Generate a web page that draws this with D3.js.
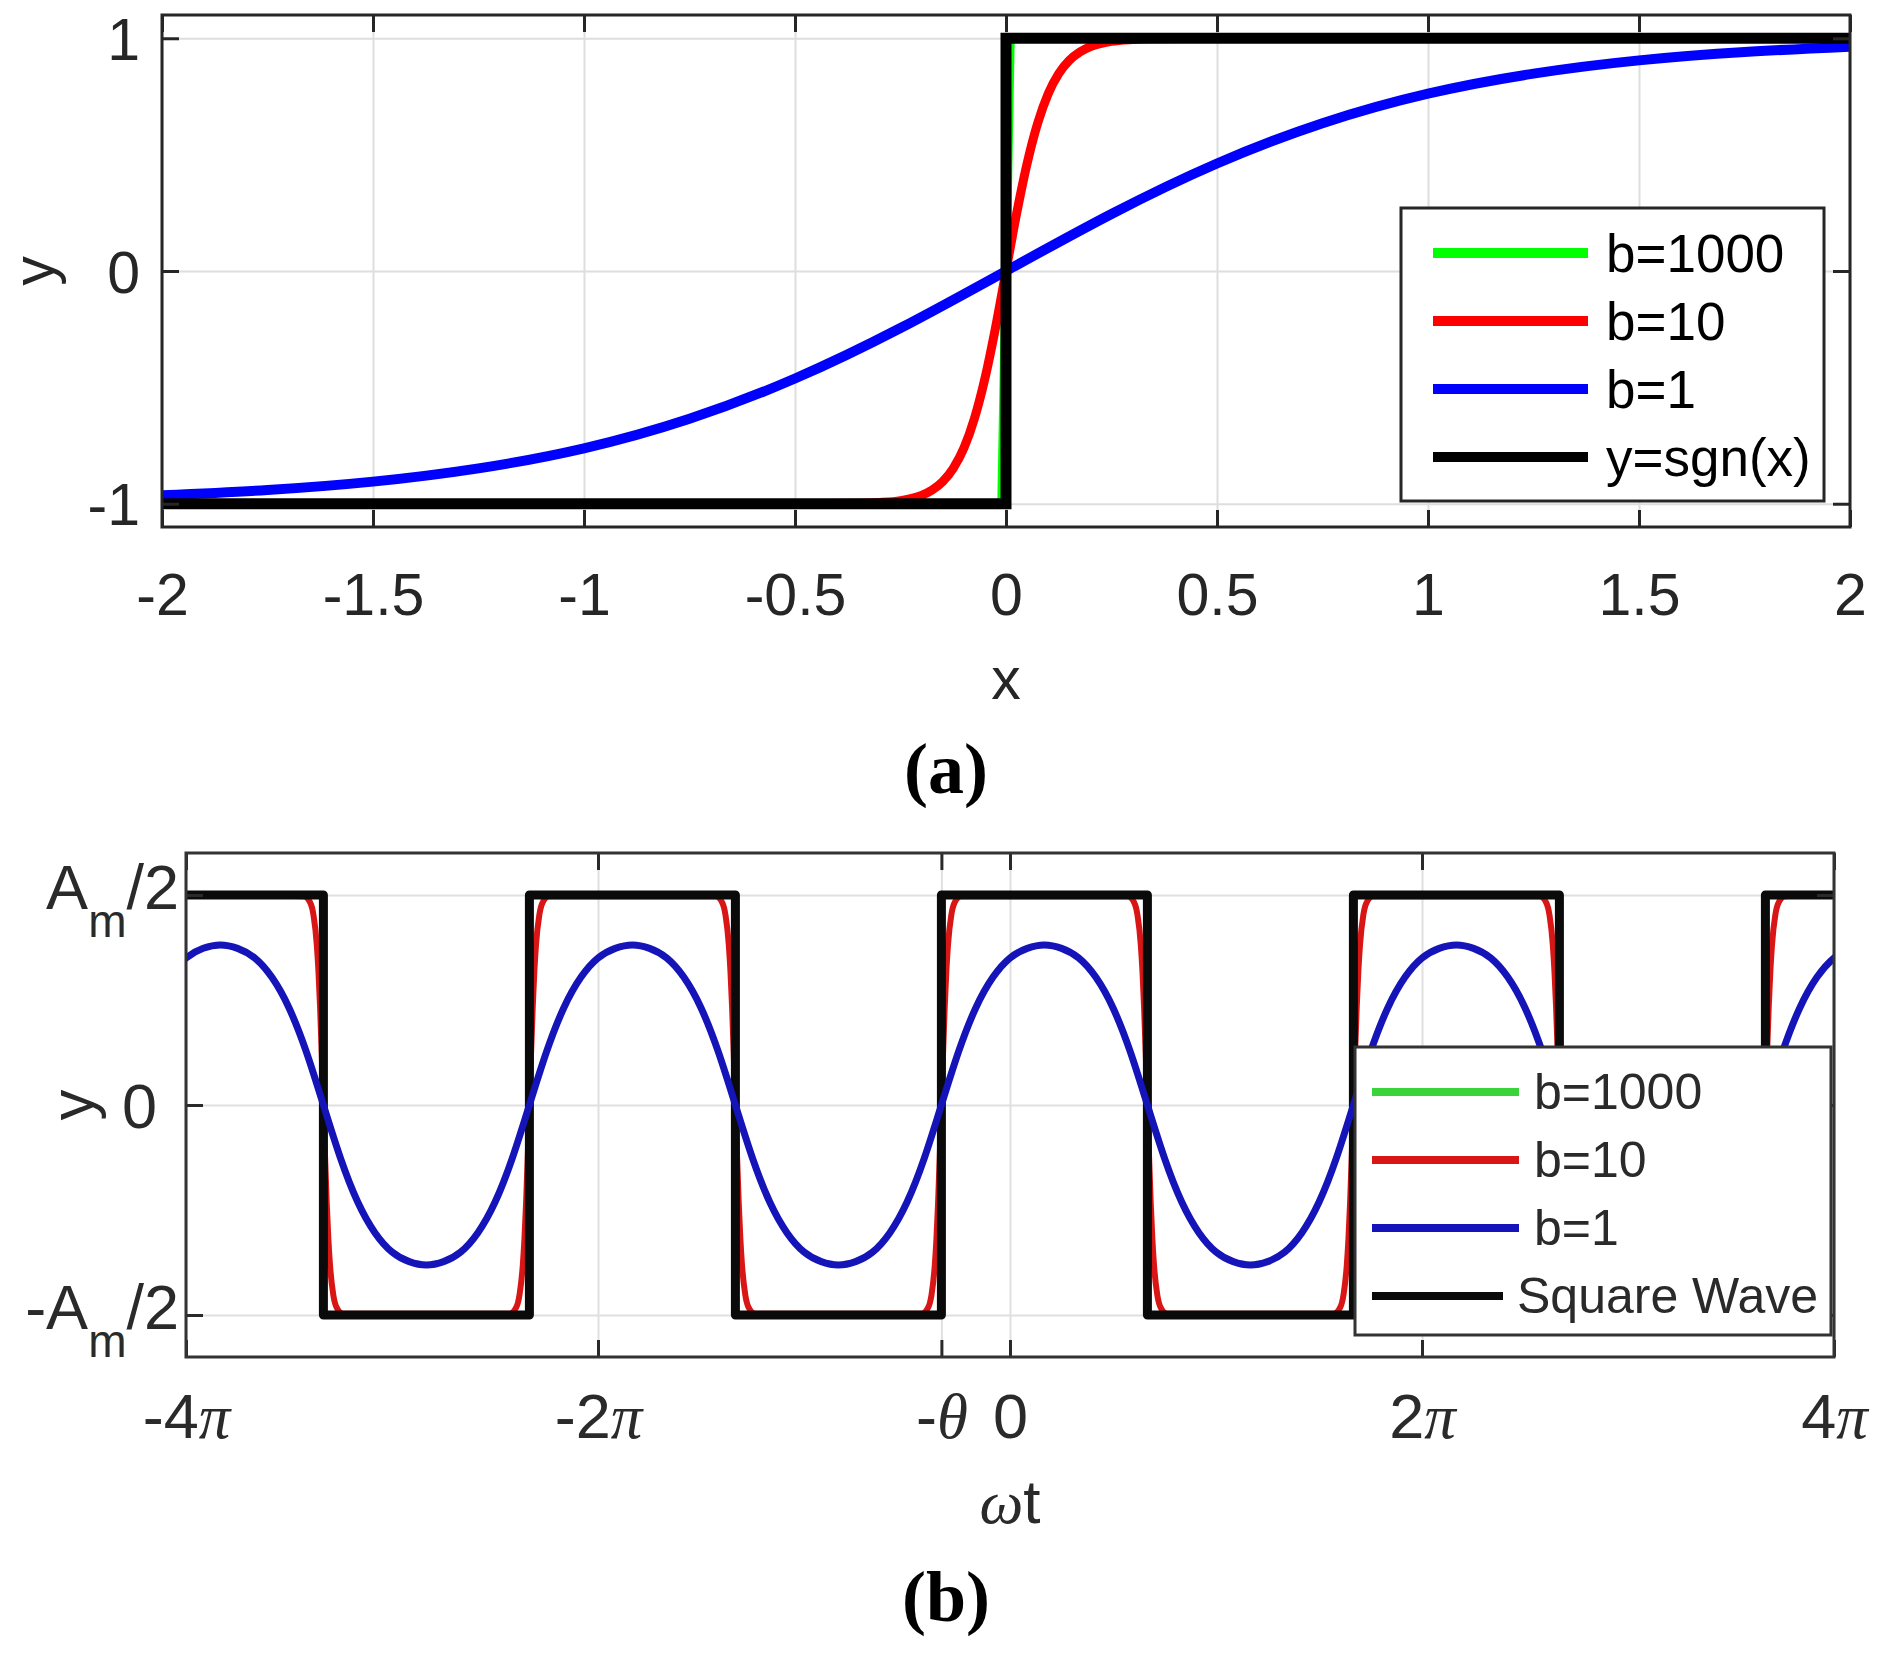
<!DOCTYPE html>
<html>
<head>
<meta charset="utf-8">
<script src="https://cdn.jsdelivr.net/npm/d3@7"></script>
<style>
body { margin: 0; background: #fff; }
</style>
</head>
<body>
<svg id="chart" width="1883" height="1659" font-family="'Liberation Sans', Arial, sans-serif"></svg>
<script>
// ---------- panel (a): y = tanh-like curves vs sgn(x) ----------
var xTicksA = [-2, -1.5, -1, -0.5, 0, 0.5, 1, 1.5, 2];
var yTicksA = [-1, 0, 1];
var namesA = ["b=1000", "b=10", "b=1", "y=sgn(x)"];
var colorsA = ["#00ff00", "#ff0000", "#0000ff", "#000000"];

var b1000X = [-2, -0.01, 0.01, 2];
var b1000Y = [-1, -1, 1, 1];
var b10X = [-2, -0.5, -0.35, -0.3, -0.25, -0.2, -0.175, -0.15, -0.125, -0.1, -0.075, -0.05, -0.025, 0,
            0.025, 0.05, 0.075, 0.1, 0.125, 0.15, 0.175, 0.2, 0.25, 0.3, 0.35, 0.5, 2];
var b10Y = [-1, -1, -0.998, -0.995, -0.987, -0.964, -0.941, -0.905, -0.848, -0.762, -0.635, -0.462, -0.245, 0,
            0.245, 0.462, 0.635, 0.762, 0.848, 0.905, 0.941, 0.964, 0.987, 0.995, 0.998, 1, 1];
var b1X = [-2, -1.75, -1.5, -1.25, -1, -0.75, -0.5, -0.25, 0, 0.25, 0.5, 0.75, 1, 1.25, 1.5, 1.75, 2];
var b1Y = [-0.964, -0.941, -0.905, -0.848, -0.762, -0.635, -0.462, -0.245, 0,
           0.245, 0.462, 0.635, 0.762, 0.848, 0.905, 0.941, 0.964];
var sgnX = [-2, 0, 0, 2];
var sgnY = [-1, -1, 1, 1];

// ---------- panel (b): x in units of pi, y in units of A_m ----------
var xTicksB = [-4, -2, -0.333, 0, 2, 4];
var xLabelsB = [["-4", "π"], ["-2", "π"], ["-", "θ"], ["0", ""], ["2", "π"], ["4", "π"]];
var yTicksB = [-0.5, 0, 0.5];
var yLabelsB = [["-A", "m", "/2"], ["0", "", ""], ["A", "m", "/2"]];
var namesB = ["b=1000", "b=10", "b=1", "Square Wave"];
var colorsB = ["#3ad43a", "#d81616", "#1414b8", "#0a0a0a"];

// square wave switching instants and levels between them
var sqEdges = [-3.333, -2.333, -1.333, -0.333, 0.667, 1.667, 2.667, 3.667];
var sqLevels = [0.5, -0.5, 0.5, -0.5, 0.5, -0.5, 0.5, -0.5, 0.5];
// shape of one edge for b=10 and b=1000 (offset from the switching instant)
var b10EdgeOff = [0, 0.008, 0.016, 0.024, 0.032, 0.048, 0.064, 0.095];
var b10EdgeVal = [0, 0.122, 0.231, 0.318, 0.381, 0.452, 0.482, 0.497];
var b1000EdgeOff = [0, 0.003];
var b1000EdgeVal = [0, 0.5];
// b=1: half wave read every pi/12 from a rising zero crossing
var b1Start = -4.333;
var b1Step = 1 / 12;
var b1HalfWave = [0, 0.127, 0.231, 0.304, 0.350, 0.373, 0.381, 0.373, 0.350, 0.304, 0.231, 0.127];

var serif = "'Liberation Serif', 'Times New Roman', serif";
var sans = "'Liberation Sans', Arial, sans-serif";

var svg = d3.select("#chart");
svg.append("rect").attr("width", 1883).attr("height", 1659).attr("fill", "#fff");

function zipPts(xs, ys) {
    return xs.map(function (x, i) { return [x, ys[i]]; });
}
function plain(d) { return String(d); }   // keep "-" instead of unicode minus

// ================= panel (a) =================
var A = { left: 162, right: 1850, top: 15, bottom: 527 };
var xA = d3.scaleLinear().domain([-2, 2]).range([A.left, A.right]);
var yA = d3.scaleLinear().domain([-1.1, 1.1]).range([A.bottom, A.top]);
var gA = svg.append("g");

// grid
gA.append("g").attr("transform", "translate(0," + A.bottom + ")")
    .call(d3.axisBottom(xA).tickValues(xTicksA).tickSize(-(A.bottom - A.top)).tickFormat(""))
    .call(function (g) { g.select(".domain").remove(); })
    .selectAll("line").attr("stroke", "#dedede").attr("stroke-width", 2);
gA.append("g").attr("transform", "translate(" + A.left + ",0)")
    .call(d3.axisLeft(yA).tickValues(yTicksA).tickSize(-(A.right - A.left)).tickFormat(""))
    .call(function (g) { g.select(".domain").remove(); })
    .selectAll("line").attr("stroke", "#dedede").attr("stroke-width", 2);

gA.append("clipPath").attr("id", "clipA").append("rect")
    .attr("x", A.left).attr("y", A.top).attr("width", A.right - A.left).attr("height", A.bottom - A.top);

var lineA = d3.line().x(function (d) { return xA(d[0]); }).y(function (d) { return yA(d[1]); });
var seriesA = [
    { pts: zipPts(b1000X, b1000Y), curve: d3.curveLinear, w: 9 },
    { pts: zipPts(b10X, b10Y), curve: d3.curveMonotoneX, w: 9 },
    { pts: zipPts(b1X, b1Y), curve: d3.curveNatural, w: 10 },
    { pts: zipPts(sgnX, sgnY), curve: d3.curveLinear, w: 11 }
];
var linesA = gA.append("g").attr("clip-path", "url(#clipA)");
seriesA.forEach(function (s, i) {
    linesA.append("path")
        .attr("d", lineA.curve(s.curve)(s.pts))
        .attr("fill", "none")
        .attr("stroke", colorsA[i])
        .attr("stroke-width", s.w);
});

// frame + ticks
function styleAxis(g, size, color) {
    g.attr("font-size", size).attr("font-family", sans).attr("color", color);
    g.select(".domain").remove();
    g.selectAll(".tick line").attr("stroke-width", 3);
}
gA.append("g").attr("transform", "translate(0," + A.bottom + ")")
    .call(d3.axisBottom(xA).tickValues(xTicksA).tickSize(-17).tickPadding(46).tickFormat(plain))
    .call(function (g) { styleAxis(g, 59, "#262626"); });
gA.append("g").attr("transform", "translate(0," + A.top + ")")
    .call(d3.axisTop(xA).tickValues(xTicksA).tickSize(-17).tickFormat(""))
    .call(function (g) { styleAxis(g, 59, "#262626"); });
gA.append("g").attr("transform", "translate(" + A.left + ",0)")
    .call(d3.axisLeft(yA).tickValues(yTicksA).tickSize(-17).tickPadding(22).tickFormat(plain))
    .call(function (g) { styleAxis(g, 59, "#262626"); g.selectAll("text").attr("dy", "0.36em"); });
gA.append("g").attr("transform", "translate(" + A.right + ",0)")
    .call(d3.axisRight(yA).tickValues(yTicksA).tickSize(-17).tickFormat(""))
    .call(function (g) { styleAxis(g, 59, "#262626"); });
gA.append("rect")
    .attr("x", A.left).attr("y", A.top).attr("width", A.right - A.left).attr("height", A.bottom - A.top)
    .attr("fill", "none").attr("stroke", "#262626").attr("stroke-width", 3);

gA.append("text").attr("x", 1006).attr("y", 699).attr("text-anchor", "middle")
    .attr("font-size", 59).attr("fill", "#262626").text("x");
gA.append("text").attr("transform", "translate(54," + yA(0) + ") rotate(-90)").attr("text-anchor", "middle")
    .attr("font-size", 59).attr("fill", "#262626").text("y");

// legend (a)
var legA = gA.append("g");
legA.append("rect").attr("x", 1401).attr("y", 208).attr("width", 423).attr("height", 293)
    .attr("fill", "#fff").attr("stroke", "#262626").attr("stroke-width", 3);
namesA.forEach(function (n, i) {
    var ry = 253 + i * 68;
    legA.append("line").attr("x1", 1433).attr("x2", 1588).attr("y1", ry).attr("y2", ry)
        .attr("stroke", colorsA[i]).attr("stroke-width", 10);
    legA.append("text").attr("x", 1606).attr("y", ry + 19).attr("font-size", 53)
        .attr("fill", "#000").text(n);
});

svg.append("text").attr("x", 946).attr("y", 793).attr("text-anchor", "middle")
    .attr("font-family", serif).attr("font-weight", "bold")
    .attr("font-size", 72).attr("fill", "#000").text("(a)");

// ================= panel (b) =================
var B = { left: 186, right: 1834, top: 853, bottom: 1357 };
var xB = d3.scaleLinear().domain([-4, 4]).range([B.left, B.right]);
var yB = d3.scaleLinear().domain([-0.6, 0.6]).range([B.bottom, B.top]);
var gB = svg.append("g");

gB.append("g").attr("transform", "translate(0," + B.bottom + ")")
    .call(d3.axisBottom(xB).tickValues(xTicksB).tickSize(-(B.bottom - B.top)).tickFormat(""))
    .call(function (g) { g.select(".domain").remove(); })
    .selectAll("line").attr("stroke", "#e0e0e0").attr("stroke-width", 2);
gB.append("g").attr("transform", "translate(" + B.left + ",0)")
    .call(d3.axisLeft(yB).tickValues(yTicksB).tickSize(-(B.right - B.left)).tickFormat(""))
    .call(function (g) { g.select(".domain").remove(); })
    .selectAll("line").attr("stroke", "#e0e0e0").attr("stroke-width", 2);

// build the series from the read values
function squarePts() {
    var pts = [[-4, sqLevels[0]]];
    sqEdges.forEach(function (e, i) {
        pts.push([e, sqLevels[i]]);
        pts.push([e, sqLevels[i + 1]]);
    });
    pts.push([4, sqLevels[sqLevels.length - 1]]);
    return pts;
}
function edgePts(off, val) {
    var pts = [[-4, sqLevels[0]]];
    sqEdges.forEach(function (e, i) {
        var d = sqLevels[i + 1] > sqLevels[i] ? 1 : -1;
        for (var j = off.length - 1; j > 0; j--) pts.push([e - off[j], -d * val[j]]);
        pts.push([e, 0]);
        for (var k = 1; k < off.length; k++) pts.push([e + off[k], d * val[k]]);
    });
    pts.push([4, sqLevels[sqLevels.length - 1]]);
    return pts;
}
function b1Pts() {
    var pts = [];
    for (var k = 0; k < 200; k++) {
        var x = b1Start + k * b1Step;
        if (x > 4.2) break;
        var i = k % 24;
        var v = i < 12 ? b1HalfWave[i] : -b1HalfWave[i - 12];
        if (x >= -4.2) pts.push([x, v]);
    }
    return pts;
}

gB.append("clipPath").attr("id", "clipB").append("rect")
    .attr("x", B.left).attr("y", B.top).attr("width", B.right - B.left).attr("height", B.bottom - B.top);
var lineB = d3.line().x(function (d) { return xB(d[0]); }).y(function (d) { return yB(d[1]); });
var linesB = gB.append("g").attr("clip-path", "url(#clipB)");
var seriesB = [
    { c: 0, pts: edgePts(b1000EdgeOff, b1000EdgeVal), curve: d3.curveLinear, w: 6 },
    { c: 1, pts: edgePts(b10EdgeOff, b10EdgeVal), curve: d3.curveMonotoneX, w: 6 },
    { c: 3, pts: squarePts(), curve: d3.curveLinear, w: 9 },
    { c: 2, pts: b1Pts(), curve: d3.curveNatural, w: 7 }
];
seriesB.forEach(function (s) {
    linesB.append("path")
        .attr("d", lineB.curve(s.curve)(s.pts))
        .attr("fill", "none")
        .attr("stroke", colorsB[s.c])
        .attr("stroke-width", s.w)
        .attr("stroke-linejoin", "round");
});

gB.append("g").attr("transform", "translate(0," + B.bottom + ")")
    .call(d3.axisBottom(xB).tickValues(xTicksB).tickSize(-17).tickFormat(""))
    .call(function (g) {
        styleAxis(g, 63, "#2a2a2a");
        g.selectAll(".tick text").each(function (d, i) {
            var t = d3.select(this).attr("y", 81).attr("dy", 0);
            t.append("tspan").text(xLabelsB[i][0]);
            if (xLabelsB[i][1]) {
                t.append("tspan").attr("font-family", serif).attr("font-style", "italic").text(xLabelsB[i][1]);
            }
        });
    });
gB.append("g").attr("transform", "translate(0," + B.top + ")")
    .call(d3.axisTop(xB).tickValues(xTicksB).tickSize(-17).tickFormat(""))
    .call(function (g) { styleAxis(g, 59, "#2a2a2a"); });
gB.append("g").attr("transform", "translate(" + B.left + ",0)")
    .call(d3.axisLeft(yB).tickValues(yTicksB).tickSize(-17).tickPadding(7).tickFormat(""))
    .call(function (g) {
        styleAxis(g, 63, "#2a2a2a");
        g.selectAll(".tick text").each(function (d, i) {
            var lab = yLabelsB[i];
            var t = d3.select(this).attr("dy", lab[1] ? "0.22em" : "0.35em");
            t.append("tspan").text(lab[0]);
            if (lab[1]) {
                t.append("tspan").attr("font-size", 46).attr("dy", 28).text(lab[1]);
                t.append("tspan").attr("dy", -28).text(lab[2]);
            } else {
                t.attr("x", -29);
            }
        });
    });
gB.append("g").attr("transform", "translate(" + B.right + ",0)")
    .call(d3.axisRight(yB).tickValues(yTicksB).tickSize(-17).tickFormat(""))
    .call(function (g) { styleAxis(g, 59, "#2a2a2a"); });
gB.append("rect")
    .attr("x", B.left).attr("y", B.top).attr("width", B.right - B.left).attr("height", B.bottom - B.top)
    .attr("fill", "none").attr("stroke", "#333").attr("stroke-width", 3);

gB.append("text").attr("transform", "translate(93," + yB(0) + ") rotate(-90)").attr("text-anchor", "middle")
    .attr("font-size", 62).attr("fill", "#2a2a2a").text("y");
var wt = gB.append("text").attr("x", 1010).attr("y", 1523).attr("text-anchor", "middle")
    .attr("font-size", 62).attr("fill", "#2a2a2a");
wt.append("tspan").attr("font-family", serif).attr("font-style", "italic").text("ω");
wt.append("tspan").text("t");

// legend (b)
var legB = gB.append("g");
legB.append("rect").attr("x", 1355).attr("y", 1047).attr("width", 476).attr("height", 288)
    .attr("fill", "#fff").attr("stroke", "#333").attr("stroke-width", 3);
namesB.forEach(function (n, i) {
    var ry = 1092 + i * 68;
    var last = i === namesB.length - 1;
    legB.append("line").attr("x1", 1372).attr("x2", last ? 1503 : 1519).attr("y1", ry).attr("y2", ry)
        .attr("stroke", colorsB[i]).attr("stroke-width", 8);
    legB.append("text").attr("x", last ? 1517 : 1534).attr("y", ry + 17).attr("font-size", 50)
        .attr("fill", "#2a2a2a").text(n);
});

svg.append("text").attr("x", 946).attr("y", 1621).attr("text-anchor", "middle")
    .attr("font-family", serif).attr("font-weight", "bold")
    .attr("font-size", 72).attr("fill", "#000").text("(b)");
</script>
</body>
</html>
